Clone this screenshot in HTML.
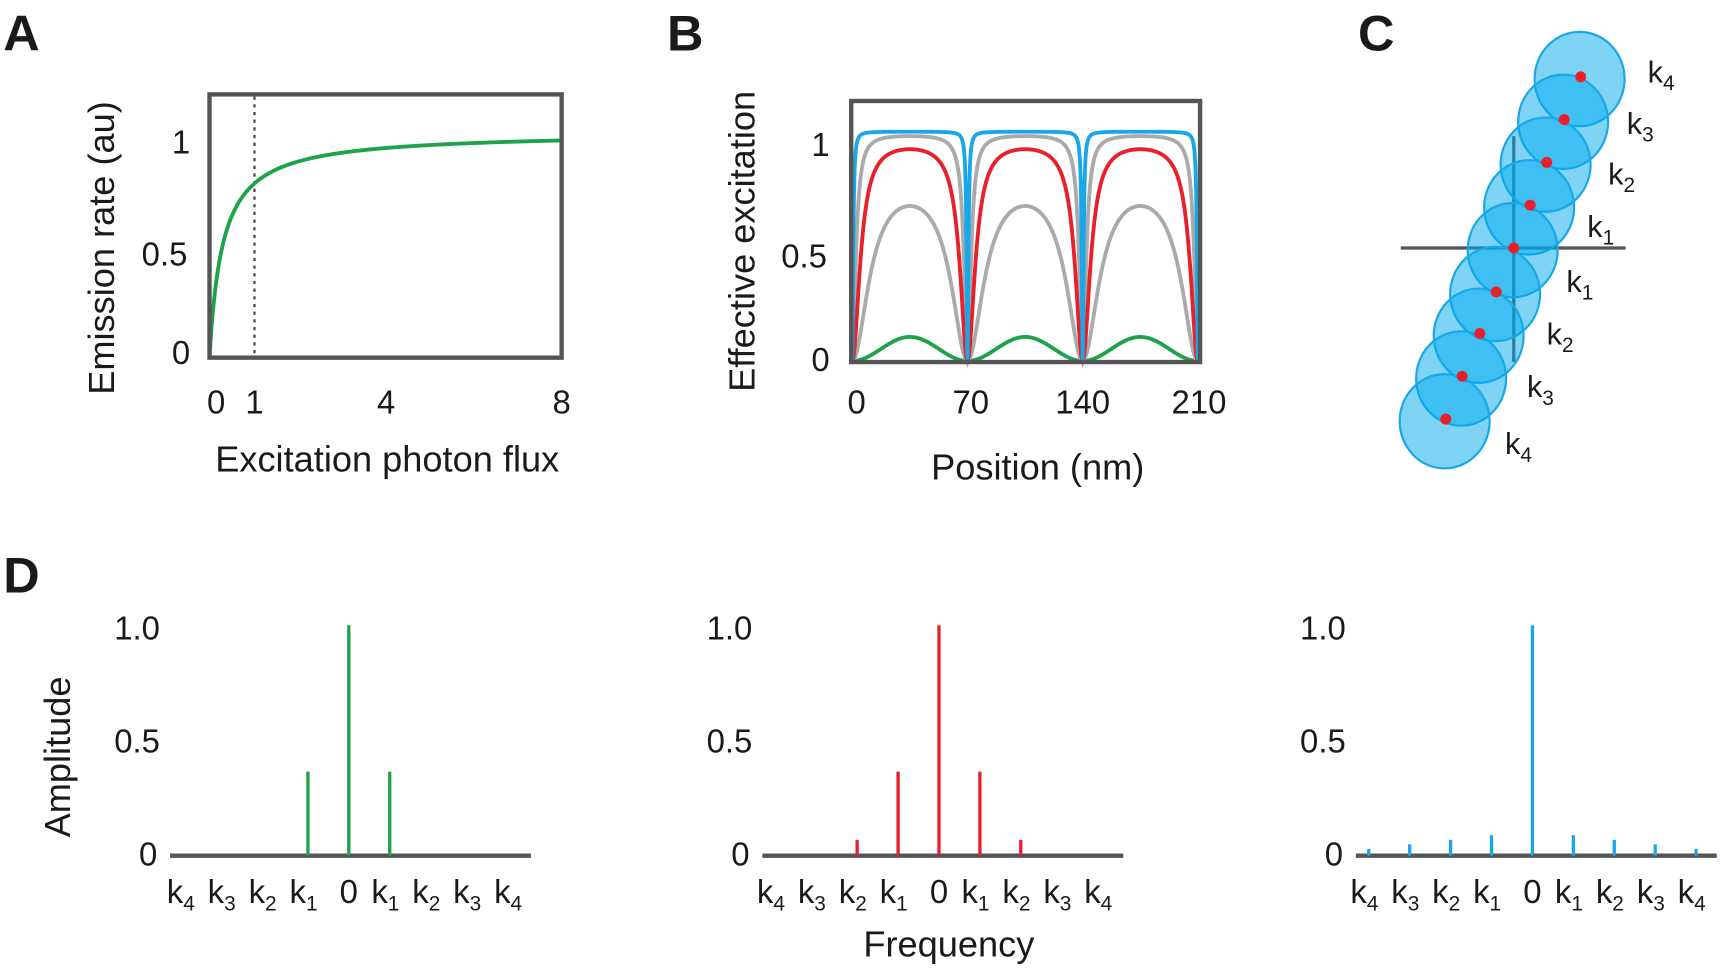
<!DOCTYPE html>
<html><head><meta charset="utf-8"><style>
html,body{margin:0;padding:0;background:#fff;}
svg{display:block;}
text{font-family:"Liberation Sans",sans-serif;fill:#1a1a1a;}
</style></head><body>
<svg width="1720" height="972" viewBox="0 0 1568 886" xmlns="http://www.w3.org/2000/svg">
<!-- Panel A -->
<text x="3" y="46" font-size="46" font-weight="bold">A</text>
<line x1="232" y1="88" x2="232" y2="324" stroke="#444" stroke-width="2" stroke-dasharray="3,4"/>
<path id="pa" fill="none" stroke="#1ea24a" stroke-width="3.5"/>
<rect x="191" y="86" width="321" height="240" fill="none" stroke="#555" stroke-width="4"/>
<g font-size="30" text-anchor="middle">
<text x="165" y="140">1</text><text x="150" y="242">0.5</text><text x="165" y="332">0</text>
<text x="197" y="377">0</text><text x="232" y="377">1</text><text x="352" y="377">4</text><text x="512" y="377">8</text>
<text x="353" y="430" font-size="33">Excitation photon flux</text>
<text transform="translate(104,226) rotate(-90)" font-size="33">Emission rate (au)</text>
</g>
<!-- Panel B -->
<text x="608" y="46" font-size="46" font-weight="bold">B</text>
<g id="pb"></g>
<rect x="776" y="92" width="318" height="238" fill="none" stroke="#555" stroke-width="4"/>
<g font-size="30" text-anchor="middle">
<text x="748" y="142">1</text><text x="733" y="244">0.5</text><text x="748" y="338">0</text>
<text x="781" y="377">0</text><text x="885" y="377">70</text><text x="987" y="377">140</text><text x="1093" y="377">210</text>
<text x="946" y="437" font-size="33">Position (nm)</text>
<text transform="translate(688,220) rotate(-90)" font-size="33">Effective excitation</text>
</g>
<!-- Panel C -->
<text x="1238" y="46" font-size="46" font-weight="bold">C</text>
<line x1="1277" y1="226" x2="1482" y2="226" stroke="#555" stroke-width="3"/>
<line x1="1380" y1="124" x2="1380" y2="330" stroke="#555" stroke-width="3"/>
<g id="pc"></g>
<g font-size="28">
<text x="1502" y="75">k<tspan font-size="19" dy="7">4</tspan></text>
<text x="1483" y="122">k<tspan font-size="19" dy="7">3</tspan></text>
<text x="1466" y="168">k<tspan font-size="19" dy="7">2</tspan></text>
<text x="1447" y="216">k<tspan font-size="19" dy="7">1</tspan></text>
<text x="1428" y="266">k<tspan font-size="19" dy="7">1</tspan></text>
<text x="1410" y="314">k<tspan font-size="19" dy="7">2</tspan></text>
<text x="1392" y="362">k<tspan font-size="19" dy="7">3</tspan></text>
<text x="1372" y="414">k<tspan font-size="19" dy="7">4</tspan></text>
</g>
<!-- Panel D -->
<text x="3" y="540" font-size="46" font-weight="bold">D</text>
<g id="pd"></g>
<g font-size="30" text-anchor="middle">
<text transform="translate(64,690) rotate(-90)" font-size="33">Amplitude</text>
<text x="865" y="872" font-size="33">Frequency</text>
</g>
<script>
var NS="http://www.w3.org/2000/svg";
function el(p,t,a,txt){var e=document.createElementNS(NS,t);for(var k in a)e.setAttribute(k,a[k]);if(txt!==undefined)e.textContent=txt;p.appendChild(e);return e;}
// A
var d="";for(var i=0;i<=400;i++){var x=8*Math.pow(i/400,2);var v=x/(x+0.3)/(8/8.3);d+=(i?"L":"M")+(191+40.1*x).toFixed(2)+","+(326-198*v).toFixed(2);}
document.getElementById("pa").setAttribute("d",d);
// B
var pb=document.getElementById("pb");
var cs=[["#1ea24a",0.11,50],["#aaaaaa",0.71,0.3],["#aaaaaa",1.03,0.012],["#e8202a",0.97,0.06],["#1aa7e8",1.05,0.0008]];
cs.forEach(function(c){var d="";for(var i=0;i<=1260;i++){var p=i/6;var u=Math.pow(Math.sin(Math.PI*p/70),2);var v=c[1]*(1+c[2])*u/(u+c[2]);d+=(i?"L":"M")+(777+1.5*p).toFixed(2)+","+(329-199*v).toFixed(2);}
el(pb,"path",{d:d,fill:"none",stroke:c[0],"stroke-width":3.5});});
// C
var pc=document.getElementById("pc");
var cen=[[1441,70],[1426,109],[1410,148],[1395,187],[1380,226],[1364,266],[1349,304],[1333,343],[1318,382]];
cen.forEach(function(c){el(pc,"ellipse",{cx:c[0]-1,cy:c[1]+2,rx:41,ry:43,fill:"rgba(0,170,238,0.5)",stroke:"#1aa7e8","stroke-width":2});});
cen.forEach(function(c){el(pc,"circle",{cx:c[0],cy:c[1],r:5,fill:"#e8202a"});});
// D
var pd=document.getElementById("pd");
var plots=[[155,318,"#1ea24a",[0,0,0,0.37]],[695,856,"#e8202a",[0,0,0.07,0.37]],[1236,1397,"#1aa7e8",[0.03,0.05,0.07,0.09]]];
plots.forEach(function(P){
 var x0=P[0],c0=P[1],sp=37.3;
 el(pd,"line",{x1:x0,y1:780,x2:x0+329,y2:780,stroke:"#555","stroke-width":4});
 var lx=x0-30;
 el(pd,"text",{x:lx,y:583,"font-size":30,"text-anchor":"middle"},"1.0");
 el(pd,"text",{x:lx,y:686,"font-size":30,"text-anchor":"middle"},"0.5");
 el(pd,"text",{x:lx+10,y:789,"font-size":30,"text-anchor":"middle"},"0");
 el(pd,"line",{x1:c0,y1:780,x2:c0,y2:570,stroke:P[2],"stroke-width":3});
 for(var j=1;j<=4;j++){var h=P[3][4-j];if(h>0){[-1,1].forEach(function(s){el(pd,"line",{x1:c0+s*j*sp,y1:780,x2:c0+s*j*sp,y2:780-207*h,stroke:P[2],"stroke-width":3});});}}
 var labs=["4","3","2","1","0","1","2","3","4"];
 labs.forEach(function(l,k){var x=c0+(k-4)*sp;
  if(k==4){el(pd,"text",{x:x,y:823,"font-size":30,"text-anchor":"middle"},"0");}
  else{var t=el(pd,"text",{x:x-4,y:823,"font-size":30,"text-anchor":"middle"});t.appendChild(document.createTextNode("k"));var ts=el(t,"tspan",{"font-size":19,dy:7},l);}
 });
});
</script>
</svg>
</body></html>
